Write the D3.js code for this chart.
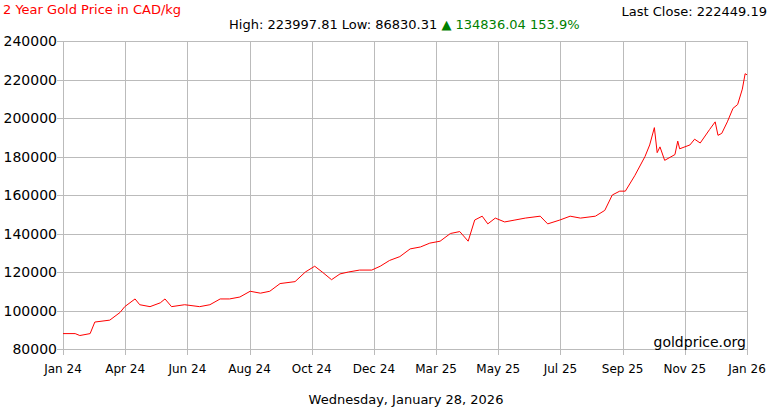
<!DOCTYPE html><html><head><script src="https://d3js.org/d3.v7.min.js"></script>
<style>body{margin:0;background:#fff}text{font-family:"DejaVu Sans",Verdana,sans-serif}</style></head><body>
<svg id="c" width="770" height="410"></svg>
<script>
const days=[0,13,18,29,34,50,61,66,77,82,93,104,109,116,130,146,157,168,178,189,200,211,221,232,248,259,269,277,287,296,305,317,330,339,349,360,371,382,392,403,414,424,433,440,448,454,462,472,483,494,510,518,531,542,553,569,579,587,595,601,611,622,627,632,635,638,643,654,657,659,670,675,681,691,697,700,704,710,716,721,726,729,731];
const prices=[88000,88000,87000,88000,94000,95000,99000,102000,106000,103000,102000,104000,106000,102000,103000,102000,103000,106000,106000,107000,110000,109000,110000,114000,115000,120000,123000,120000,116000,119000,120000,121000,121000,123000,126000,128000,132000,133000,135000,136000,140000,141000,136000,147000,149000,145000,148000,146000,147000,148000,149000,145000,147000,149000,148000,149000,152000,160000,162000,162000,170000,180000,186000,195000,182000,185000,178000,181000,188000,184000,186000,189000,187000,194000,198000,191000,192000,198000,205000,207000,215000,223000,222449];
const xTickLabels=["Jan 24","Apr 24","Jun 24","Aug 24","Oct 24","Dec 24","Mar 25","May 25","Jul 25","Sep 25","Nov 25","Jan 26"];
const yTicks=[80000,100000,120000,140000,160000,180000,200000,220000,240000];
const svg=d3.select("#c");
const x=d3.scaleLinear().domain([0,731]).range([63,747]);
const y=d3.scaleLinear().domain([80000,240000]).range([349,41]);
const tickDays=xTickLabels.map((d,i)=>i*731/11);
const g=svg.append("g");
g.selectAll(".vg").data(tickDays).join("line").attr("x1",d=>Math.round(x(d))+.5).attr("x2",d=>Math.round(x(d))+.5).attr("y1",41).attr("y2",355).attr("stroke","#bbb");
g.selectAll(".hg").data(yTicks).join("line").attr("x1",57).attr("x2",747).attr("y1",d=>Math.round(y(d))+.5).attr("y2",d=>Math.round(y(d))+.5).attr("stroke","#bbb");
g.selectAll(".yl").data(yTicks).join("text").attr("x",57).attr("y",d=>y(d)+5).attr("text-anchor","end").attr("font-size",14).attr("fill","#000").text(d=>d);
g.selectAll(".xl").data(tickDays).join("text").attr("x",d=>x(d)).attr("y",373).attr("text-anchor","middle").attr("font-size",12).text((d,i)=>xTickLabels[i]);
svg.append("path").datum(days.map((d,i)=>[d,prices[i]])).attr("fill","none").attr("stroke","red").attr("stroke-width",1)
 .attr("d",d3.line().x(d=>x(d[0])).y(d=>y(d[1])));
svg.append("text").attr("x",3).attr("y",14).attr("fill","red").attr("font-size",13).text("2 Year Gold Price in CAD/kg");
svg.append("text").attr("x",767).attr("y",16).attr("text-anchor","end").attr("font-size",13).text("Last Close: 222449.19");
const t=svg.append("text").attr("x",229).attr("y",29).attr("font-size",13);
t.append("tspan").text("High: 223997.81 Low: 86830.31 ");
t.append("tspan").attr("fill","green").text("▲ 134836.04 153.9%");
svg.append("text").attr("x",746).attr("y",347).attr("text-anchor","end").attr("font-size",14).text("goldprice.org");
svg.append("text").attr("x",406).attr("y",404).attr("text-anchor","middle").attr("font-size",13).text("Wednesday, January 28, 2026");
</script></body></html>
